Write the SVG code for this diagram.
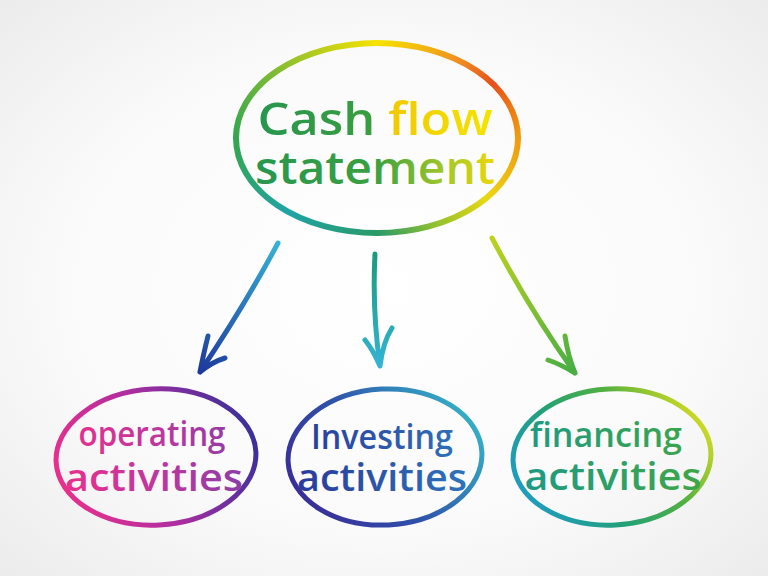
<svg xmlns="http://www.w3.org/2000/svg" width="768" height="576" viewBox="0 0 768 576">
<defs>
<radialGradient id="bg" cx="50%" cy="50%" r="70%">
<stop offset="0" stop-color="#ffffff"/>
<stop offset="0.6" stop-color="#fafafa"/>
<stop offset="1" stop-color="#ececec"/>
</radialGradient>
<linearGradient id="gBL" gradientUnits="userSpaceOnUse" x1="377" y1="233" x2="236" y2="138">
<stop offset="0" stop-color="#2a9a68"/><stop offset="0.5" stop-color="#1fa3a6"/><stop offset="1" stop-color="#34a650"/>
</linearGradient>
<linearGradient id="gLT" gradientUnits="userSpaceOnUse" x1="236" y1="138" x2="377" y2="43">
<stop offset="0" stop-color="#34a650"/><stop offset="0.55" stop-color="#9cc428"/><stop offset="1" stop-color="#f6e200"/>
</linearGradient>
<linearGradient id="gTR" gradientUnits="userSpaceOnUse" x1="377" y1="43" x2="518" y2="138">
<stop offset="0" stop-color="#f6e200"/><stop offset="0.45" stop-color="#f09020"/><stop offset="0.7" stop-color="#e6501a"/><stop offset="1" stop-color="#f09a10"/>
</linearGradient>
<linearGradient id="gRB" gradientUnits="userSpaceOnUse" x1="518" y1="138" x2="377" y2="233">
<stop offset="0" stop-color="#f09a10"/><stop offset="0.35" stop-color="#ecd812"/><stop offset="0.7" stop-color="#8cc030"/><stop offset="1" stop-color="#2a9a68"/>
</linearGradient>
<linearGradient id="gTitle1" gradientUnits="userSpaceOnUse" x1="258" y1="0" x2="493" y2="0">
<stop offset="0" stop-color="#27964e"/><stop offset="0.5" stop-color="#3a9e3e"/><stop offset="0.55" stop-color="#f2c800"/><stop offset="1" stop-color="#f4e400"/>
</linearGradient>
<linearGradient id="gTitle2" gradientUnits="userSpaceOnUse" x1="255" y1="0" x2="495" y2="0">
<stop offset="0" stop-color="#27964e"/><stop offset="0.5" stop-color="#3aa040"/><stop offset="0.8" stop-color="#a6c828"/><stop offset="1" stop-color="#ecd808"/>
</linearGradient>
<linearGradient id="gOpE" gradientUnits="userSpaceOnUse" x1="60" y1="480" x2="255" y2="420">
<stop offset="0" stop-color="#e8308c"/><stop offset="0.45" stop-color="#b02ea0"/><stop offset="1" stop-color="#36309a"/>
</linearGradient>
<linearGradient id="gOpT" gradientUnits="userSpaceOnUse" x1="65" y1="0" x2="245" y2="0">
<stop offset="0" stop-color="#e8308c"/><stop offset="0.5" stop-color="#c036a0"/><stop offset="1" stop-color="#8a3ea6"/>
</linearGradient>
<linearGradient id="gInE" gradientUnits="userSpaceOnUse" x1="300" y1="510" x2="470" y2="400">
<stop offset="0" stop-color="#3a2c98"/><stop offset="0.45" stop-color="#2e52aa"/><stop offset="1" stop-color="#36b6c8"/>
</linearGradient>
<linearGradient id="gInT" gradientUnits="userSpaceOnUse" x1="297" y1="0" x2="470" y2="0">
<stop offset="0" stop-color="#2a3a9c"/><stop offset="1" stop-color="#2e74ba"/>
</linearGradient>
<linearGradient id="gFiE" gradientUnits="userSpaceOnUse" x1="525" y1="510" x2="700" y2="400">
<stop offset="0" stop-color="#1f9cc8"/><stop offset="0.35" stop-color="#22a078"/><stop offset="0.65" stop-color="#50b040"/><stop offset="1" stop-color="#e2e020"/>
</linearGradient>
<linearGradient id="gFiT" gradientUnits="userSpaceOnUse" x1="525" y1="0" x2="702" y2="0">
<stop offset="0" stop-color="#1e9a82"/><stop offset="1" stop-color="#3ea648"/>
</linearGradient>
<linearGradient id="gA1" gradientUnits="userSpaceOnUse" x1="278" y1="243" x2="200" y2="372">
<stop offset="0" stop-color="#36b2d6"/><stop offset="1" stop-color="#1e3a9c"/>
</linearGradient>
<linearGradient id="gA2" gradientUnits="userSpaceOnUse" x1="0" y1="254" x2="0" y2="366">
<stop offset="0" stop-color="#1c9a7e"/><stop offset="1" stop-color="#32b4d4"/>
</linearGradient>
<linearGradient id="gA3" gradientUnits="userSpaceOnUse" x1="492" y1="238" x2="575" y2="373">
<stop offset="0" stop-color="#bcd21e"/><stop offset="1" stop-color="#46ae44"/>
</linearGradient>
</defs>
<style>
.ring{fill:none;stroke-width:6;stroke-linecap:round}
.ring2{fill:none;stroke-width:5;stroke-linecap:round}
.lbl{font-family:"Open Sans","DejaVu Sans",sans-serif;font-weight:600;text-anchor:middle}
.arrow{fill:none;stroke-width:5;stroke-linecap:round;stroke-linejoin:round}
</style>
<rect width="768" height="576" fill="url(#bg)"/>

<g id="node-cash-flow-statement">
<path class="ring" stroke="url(#gBL)" d="M377,233 A141,95 0 0 1 236,138"/>
<path class="ring" stroke="url(#gLT)" d="M236,138 A141,95 0 0 1 377,43"/>
<path class="ring" stroke="url(#gTR)" d="M377,43 A141,95 0 0 1 518,138"/>
<path class="ring" stroke="url(#gRB)" d="M518,138 A141,95 0 0 1 377,233"/>
<text class="lbl" x="375" y="135" font-size="46" fill="url(#gTitle1)" textLength="235" lengthAdjust="spacingAndGlyphs">Cash flow</text>
<text class="lbl" x="375" y="184" font-size="46" fill="url(#gTitle2)" textLength="240" lengthAdjust="spacingAndGlyphs">statement</text>
</g>

<g id="node-operating">
<ellipse class="ring2" stroke="url(#gOpE)" cx="156" cy="457" rx="100" ry="68" transform="rotate(-3 156 457)"/>
<text class="lbl" x="152" y="446" font-size="35" fill="url(#gOpT)" textLength="147" lengthAdjust="spacingAndGlyphs">operating</text>
<text class="lbl" x="154" y="491" font-size="38" fill="url(#gOpT)" textLength="178" lengthAdjust="spacingAndGlyphs">activities</text>
</g>

<g id="node-investing">
<ellipse class="ring2" stroke="url(#gInE)" cx="385" cy="457" rx="97" ry="68" transform="rotate(-3 385 457)"/>
<text class="lbl" x="382" y="449" font-size="35" fill="url(#gInT)" textLength="142" lengthAdjust="spacingAndGlyphs">Investing</text>
<text class="lbl" x="382" y="491" font-size="38" fill="url(#gInT)" textLength="170" lengthAdjust="spacingAndGlyphs">activities</text>
</g>

<g id="node-financing">
<ellipse class="ring2" stroke="url(#gFiE)" cx="612" cy="457" rx="99" ry="68" transform="rotate(-3 612 457)"/>
<text class="lbl" x="606" y="447" font-size="35" fill="url(#gFiT)" textLength="152" lengthAdjust="spacingAndGlyphs">financing</text>
<text class="lbl" x="613" y="490" font-size="38" fill="url(#gFiT)" textLength="177" lengthAdjust="spacingAndGlyphs">activities</text>
</g>

<g id="connectors">
<path class="arrow" stroke="url(#gA1)" d="M278,243 Q245,305 200,372 M208,336 Q203,356 200,372 Q212,362 225,358"/>
<path class="arrow" stroke="url(#gA2)" d="M375,254 Q372,310 380,366 M365,340 Q373,350 380,366 Q383,342 392,328"/>
<path class="arrow" stroke="url(#gA3)" d="M492,238 Q530,310 575,373 M565,336 Q568,356 575,373 Q560,364 548,360"/>
</g>
</svg>
